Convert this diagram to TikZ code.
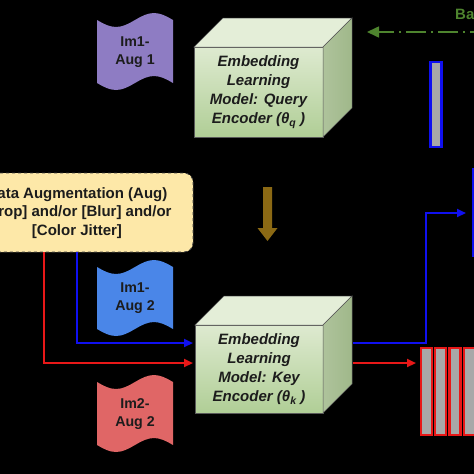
\documentclass[tikz,border=0pt]{standalone}
\usepackage{fontspec}
\setmainfont{Liberation Sans}
\usetikzlibrary{arrows.meta}
\definecolor{tapepurple}{RGB}{142,124,195}
\definecolor{tapeblue}{RGB}{74,134,232}
\definecolor{tapered}{RGB}{224,102,102}
\definecolor{cubefrontA}{RGB}{222,234,208}
\definecolor{cubefrontB}{RGB}{176,206,150}
\definecolor{cubetop}{RGB}{228,238,216}
\definecolor{cubeside}{RGB}{160,184,138}
\definecolor{augfill}{RGB}{253,232,168}
\definecolor{linkblue}{RGB}{16,16,240}
\definecolor{linkred}{RGB}{232,24,24}
\definecolor{bpgreen}{RGB}{78,132,46}
\definecolor{brownarrow}{RGB}{139,105,20}
\definecolor{bargray}{RGB}{168,168,168}
\definecolor{textdark}{RGB}{28,28,28}
\tikzset{
  tapetext/.style={font=\bfseries\fontsize{14.2}{18}\selectfont, text=textdark, align=center},
  cubeedge/.style={draw=black!65, line width=0.5pt},
  cubetext/.style={font=\bfseries\itshape\fontsize{15}{19}\selectfont, text=textdark, align=center},
  augtext/.style={font=\bfseries\fontsize{15}{18.5}\selectfont, text=textdark, align=center},
  bluelink/.style={draw=linkblue, line width=2.2pt, -{Triangle[length=9pt,width=8pt]}},
  redlink/.style={draw=linkred, line width=2.2pt, -{Triangle[length=9pt,width=8pt]}},
  featbar/.style={fill=bargray, line width=2.6pt},
}
\newcommand{\mytape}[4]{% x0, ytop-mid, ybot-mid, colour
  \fill[#4] (#1,#2) sin ({#1+19},{#2+7}) cos ({#1+38},#2) sin ({#1+57},{#2-7}) cos ({#1+76},#2)
    -- ({#1+76},#3) sin ({#1+57},{#3-7}) cos ({#1+38},#3) sin ({#1+19},{#3+7}) cos (#1,#3) -- cycle;
}
\begin{document}
\begin{tikzpicture}[x=1pt,y=-1pt]
\useasboundingbox (0,0) rectangle (474,474);
\fill[black] (0,0) rectangle (474,474);

% ---------- tapes ----------
\mytape{97}{20}{83}{tapepurple}
\node[tapetext] (im11) at (135,52) {Im1-\\Aug 1};
\mytape{97}{267}{329}{tapeblue}
\node[tapetext] (im12) at (135,298) {Im1-\\Aug 2};
\mytape{97}{382}{445}{tapered}
\node[tapetext] (im22) at (135,414) {Im2-\\Aug 2};

% ---------- query cube ----------
\shade[top color=cubefrontA, bottom color=cubefrontB] (194,47) rectangle (323,137);
\draw[cubeedge] (194,47) rectangle (323,137);
\draw[cubeedge, fill=cubetop] (194,47) -- (223,18) -- (352,18) -- (323,47) -- cycle;
\shade[left color=cubeside!85!white, right color=cubeside] (323,47) -- (352,18) -- (352,108) -- (323,137) -- cycle;
\draw[cubeedge] (323,47) -- (352,18) -- (352,108) -- (323,137) -- cycle;
\node[cubetext] (qenc) at (258.5,92) {Embedding\\Learning\\Model: Query\\Encoder (θ\raisebox{-3.5pt}{\fontsize{10.5}{10.5}\selectfont q} )};

% ---------- key cube ----------
\shade[top color=cubefrontA, bottom color=cubefrontB] (195,325) rectangle (323,413);
\draw[cubeedge] (195,325) rectangle (323,413);
\draw[cubeedge, fill=cubetop] (195,325) -- (224,296) -- (352,296) -- (323,325) -- cycle;
\shade[left color=cubeside!85!white, right color=cubeside] (323,325) -- (352,296) -- (352,384) -- (323,413) -- cycle;
\draw[cubeedge] (323,325) -- (352,296) -- (352,384) -- (323,413) -- cycle;
\node[cubetext] (kenc) at (259,369) {Embedding\\Learning\\Model: Key\\Encoder (θ\raisebox{-3.5pt}{\fontsize{10.5}{10.5}\selectfont k} )};

% ---------- augmentation box ----------
\draw[fill=augfill, draw=black!75, dashed, line width=0.8pt, rounded corners=9pt] (-20,173) rectangle (193,252);
\node[augtext] (aug) at (77,213) {Data Augmentation (Aug)\\{}[Crop] and/or [Blur] and/or\\{}[Color Jitter]};

% ---------- brown arrow ----------
\fill[brownarrow] (263,187) -- (272,187) -- (272,228) -- (277.5,228) -- (267.5,241) -- (257.5,228) -- (263,228) -- cycle;

% ---------- backpropagation ----------
\coordinate (bpstart) at (490,32);
\coordinate (bpend) at (367,32);
\draw[bpgreen, line width=1.6pt, dash pattern=on 20pt off 5pt on 2pt off 5pt,
  -{Triangle[length=12pt,width=11pt]}] (bpstart) -- (bpend);
\node[font=\bfseries\fontsize{15}{15}\selectfont, text=bpgreen, anchor=west, inner sep=0pt] (bp) at (455,16) {Backpropagation};

% ---------- feature bars ----------
\draw[featbar, draw=linkblue] (430.5,62) rectangle (441.5,147);
\draw[featbar, draw=linkred] (421,348) rectangle (432,435);
\draw[featbar, draw=linkred] (435,348) rectangle (446,435);
\draw[featbar, draw=linkred] (449.5,348) rectangle (460.5,435);
\draw[featbar, draw=linkred] (464,348) rectangle (475,435);
\draw[draw=linkblue, line width=2.6pt] (473.5,168) -- (473.5,257);

% ---------- connectors ----------
\coordinate (augblue) at (77,252);
\coordinate (augred) at (44,252);
\coordinate (kinblue) at (193,343);
\coordinate (kinred) at (193,363);
\coordinate (koutblue) at (353,343);
\coordinate (koutred) at (353,363);
\coordinate (simin) at (466,213);
\coordinate (queuein) at (416,363);
\draw[bluelink] (augblue) |- (kinblue);
\draw[redlink] (augred) |- (kinred);
\draw[bluelink] (koutblue) -- (426,343) |- (simin);
\draw[redlink] (koutred) -- (queuein);
\end{tikzpicture}
\end{document}
